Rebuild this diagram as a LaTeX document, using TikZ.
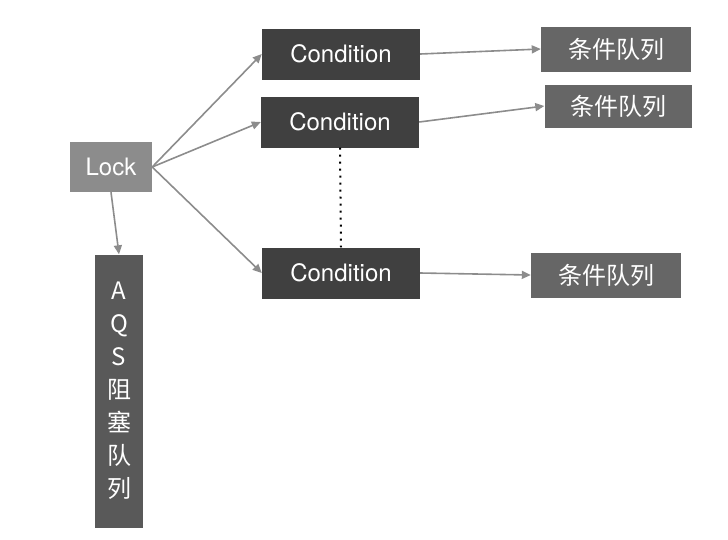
\documentclass[tikz,border=0pt]{standalone}
\usepackage{fontspec}
\setmainfont{TeX Gyre Heros}
\newfontfamily\cjk{Noto Sans CJK SC}
\usetikzlibrary{arrows.meta}
\begin{document}
\begin{tikzpicture}[x=1pt,y=-1pt,
  box/.style={draw=none,text=white,inner sep=0pt,font=\fontsize{24}{26}\selectfont},
  cond/.style={box,fill=black!75,minimum width=158pt,minimum height=51pt},
  queue/.style={box,fill=black!60,minimum width=150pt,minimum height=45pt,font=\cjk\fontsize{24}{26}\selectfont},
  arr/.style={draw=black!45,line width=1.6pt,-{Triangle[length=9pt,width=8pt]}}]
\useasboundingbox (0,0) rectangle (728,539);
\node[box,fill=black!45,minimum width=82pt,minimum height=50pt] (lock) at (111,167) {Lock};
\node[box,fill=black!65,minimum width=48pt,minimum height=273pt,align=center,font=\cjk\fontsize{24}{33}\selectfont] (aqs) at (119,391) {A\\Q\\S\\阻\\塞\\队\\列};
\node[cond] (c1) at (341,54) {Condition};
\node[cond] (c2) at (340,122) {Condition};
\node[cond] (c3) at (341,273) {Condition};
\node[queue] (q1) at (616,49) {条件队列};
\node[queue,minimum width=147pt,minimum height=43pt] (q2) at (618,106) {条件队列};
\node[queue] (q3) at (606,275) {条件队列};
\draw[arr] (lock.east) -- (c1.west);
\draw[arr] (lock.east) -- (c2.west);
\draw[arr] (lock.east) -- (c3.west);
\draw[arr] (lock.south) -- (aqs.north);
\draw[arr] (c1.east) -- (q1.west);
\draw[arr] (c2.east) -- (q2.west);
\draw[arr] (c3.east) -- (q3.west);
\draw[line width=2pt,dash pattern=on 2pt off 5pt] (c2.south) -- (c3.north);
\end{tikzpicture}
\end{document}
